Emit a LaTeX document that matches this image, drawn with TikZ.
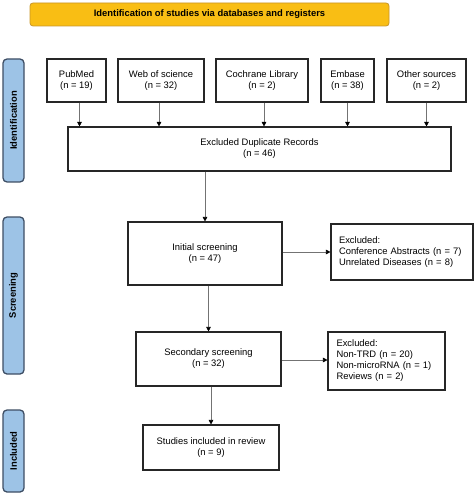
\documentclass[tikz,border=0pt]{standalone}
\usepackage{fontspec}
\setmainfont{Liberation Sans}
\usetikzlibrary{arrows.meta}
\definecolor{banner}{RGB}{249,190,20}
\definecolor{bannerline}{RGB}{200,150,40}
\definecolor{sidefill}{RGB}{157,195,230}
\definecolor{sideline}{RGB}{62,78,100}
\begin{document}
\begin{tikzpicture}[x=1pt,y=-1pt,
  every node/.style={font=\fontsize{9.4}{11}\selectfont},
  box/.style={draw=black!85,line width=1.1pt,inner sep=0pt,align=center},
  exbox/.style={draw=black!85,line width=1.1pt,inner sep=0pt,align=left},
  sidebar/.style={draw=sideline,fill=sidefill,line width=1.3pt,rounded corners=4pt,inner sep=0pt},
  sidelabel/.style={rotate=90,font=\fontsize{9.4}{11}\selectfont\bfseries},
  arr/.style={draw=black!55,line width=0.6pt,-{Triangle[length=4.5pt,width=4.5pt,color=black]}}]
\useasboundingbox (0,0) rectangle (474,494);
% banner
\node[draw=bannerline,fill=banner,line width=0.8pt,rounded corners=3pt,minimum width=359pt,minimum height=23pt,inner sep=0pt,font=\fontsize{9.4}{11}\selectfont\bfseries] (banner) at (209.5,14.5) {Identification of studies via databases and registers};
% side bars
\node[sidebar,minimum width=21pt,minimum height=123pt] (sid) at (13.5,120.5) {};
\node[sidelabel] (sidt) at (sid.center) {Identification};
\node[sidebar,minimum width=21pt,minimum height=157pt] (sscr) at (13.5,295.5) {};
\node[sidelabel] (sscrt) at (sscr.center) {Screening};
\node[sidebar,minimum width=21pt,minimum height=82pt] (sinc) at (13.5,451) {};
\node[sidelabel] (sinct) at (sinc.center) {Included};
% sources
\node[box,minimum width=59pt,minimum height=43pt] (pub) at (76.5,80.5) {PubMed\\(n = 19)};
\node[box,minimum width=86pt,minimum height=43pt] (wos) at (161,80.5) {Web of science\\(n = 32)};
\node[box,minimum width=92pt,minimum height=43pt] (coc) at (262,80.5) {Cochrane Library\\(n = 2)};
\node[box,minimum width=53pt,minimum height=43pt] (emb) at (347.5,80.5) {Embase\\(n = 38)};
\node[box,minimum width=79pt,minimum height=43pt] (oth) at (426.5,80.5) {Other sources\\(n = 2)};
% duplicate
\node[box,minimum width=383pt,minimum height=44pt] (dup) at (259.5,149) {Excluded Duplicate Records\\(n = 46)};
% screening
\node[box,minimum width=154pt,minimum height=63pt] (init) at (205,253.5) {Initial screening\\(n = 47)};
\node[exbox,minimum width=142pt,minimum height=56pt,text width=126pt] (ex1) at (402,252) {Excluded:\\Conference Abstracts (n = 7)\\Unrelated Diseases (n = 8)};
\node[box,minimum width=145pt,minimum height=54pt] (sec) at (208.5,359) {Secondary screening\\(n = 32)};
\node[exbox,minimum width=117pt,minimum height=58pt,text width=100pt] (ex2) at (386.5,361) {Excluded:\\Non-TRD (n = 20)\\Non-microRNA (n = 1)\\Reviews (n = 2)};
\node[box,minimum width=136pt,minimum height=45pt] (inc) at (211,447.5) {Studies included in review\\(n = 9)};
% arrows
\draw[arr] ([xshift=3pt]pub.south) -- ([xshift=3pt]pub.south |- dup.north);
\draw[arr] ([xshift=-2pt]wos.south) -- ([xshift=-2pt]wos.south |- dup.north);
\draw[arr] ([xshift=2pt]coc.south) -- ([xshift=2pt]coc.south |- dup.north);
\draw[arr] (emb.south) -- (emb.south |- dup.north);
\draw[arr] (oth.south) -- (oth.south |- dup.north);
\draw[arr] (dup.south -| init.north) -- (init.north);
\draw[arr] (init.east |- ex1.west) -- (ex1.west);
\draw[arr] (sec.north |- init.south) -- (sec.north);
\draw[arr] (sec.east |- 0,360) -- (ex2.west |- 0,360);
\draw[arr] (inc.north |- sec.south) -- (inc.north);
\end{tikzpicture}
\end{document}
